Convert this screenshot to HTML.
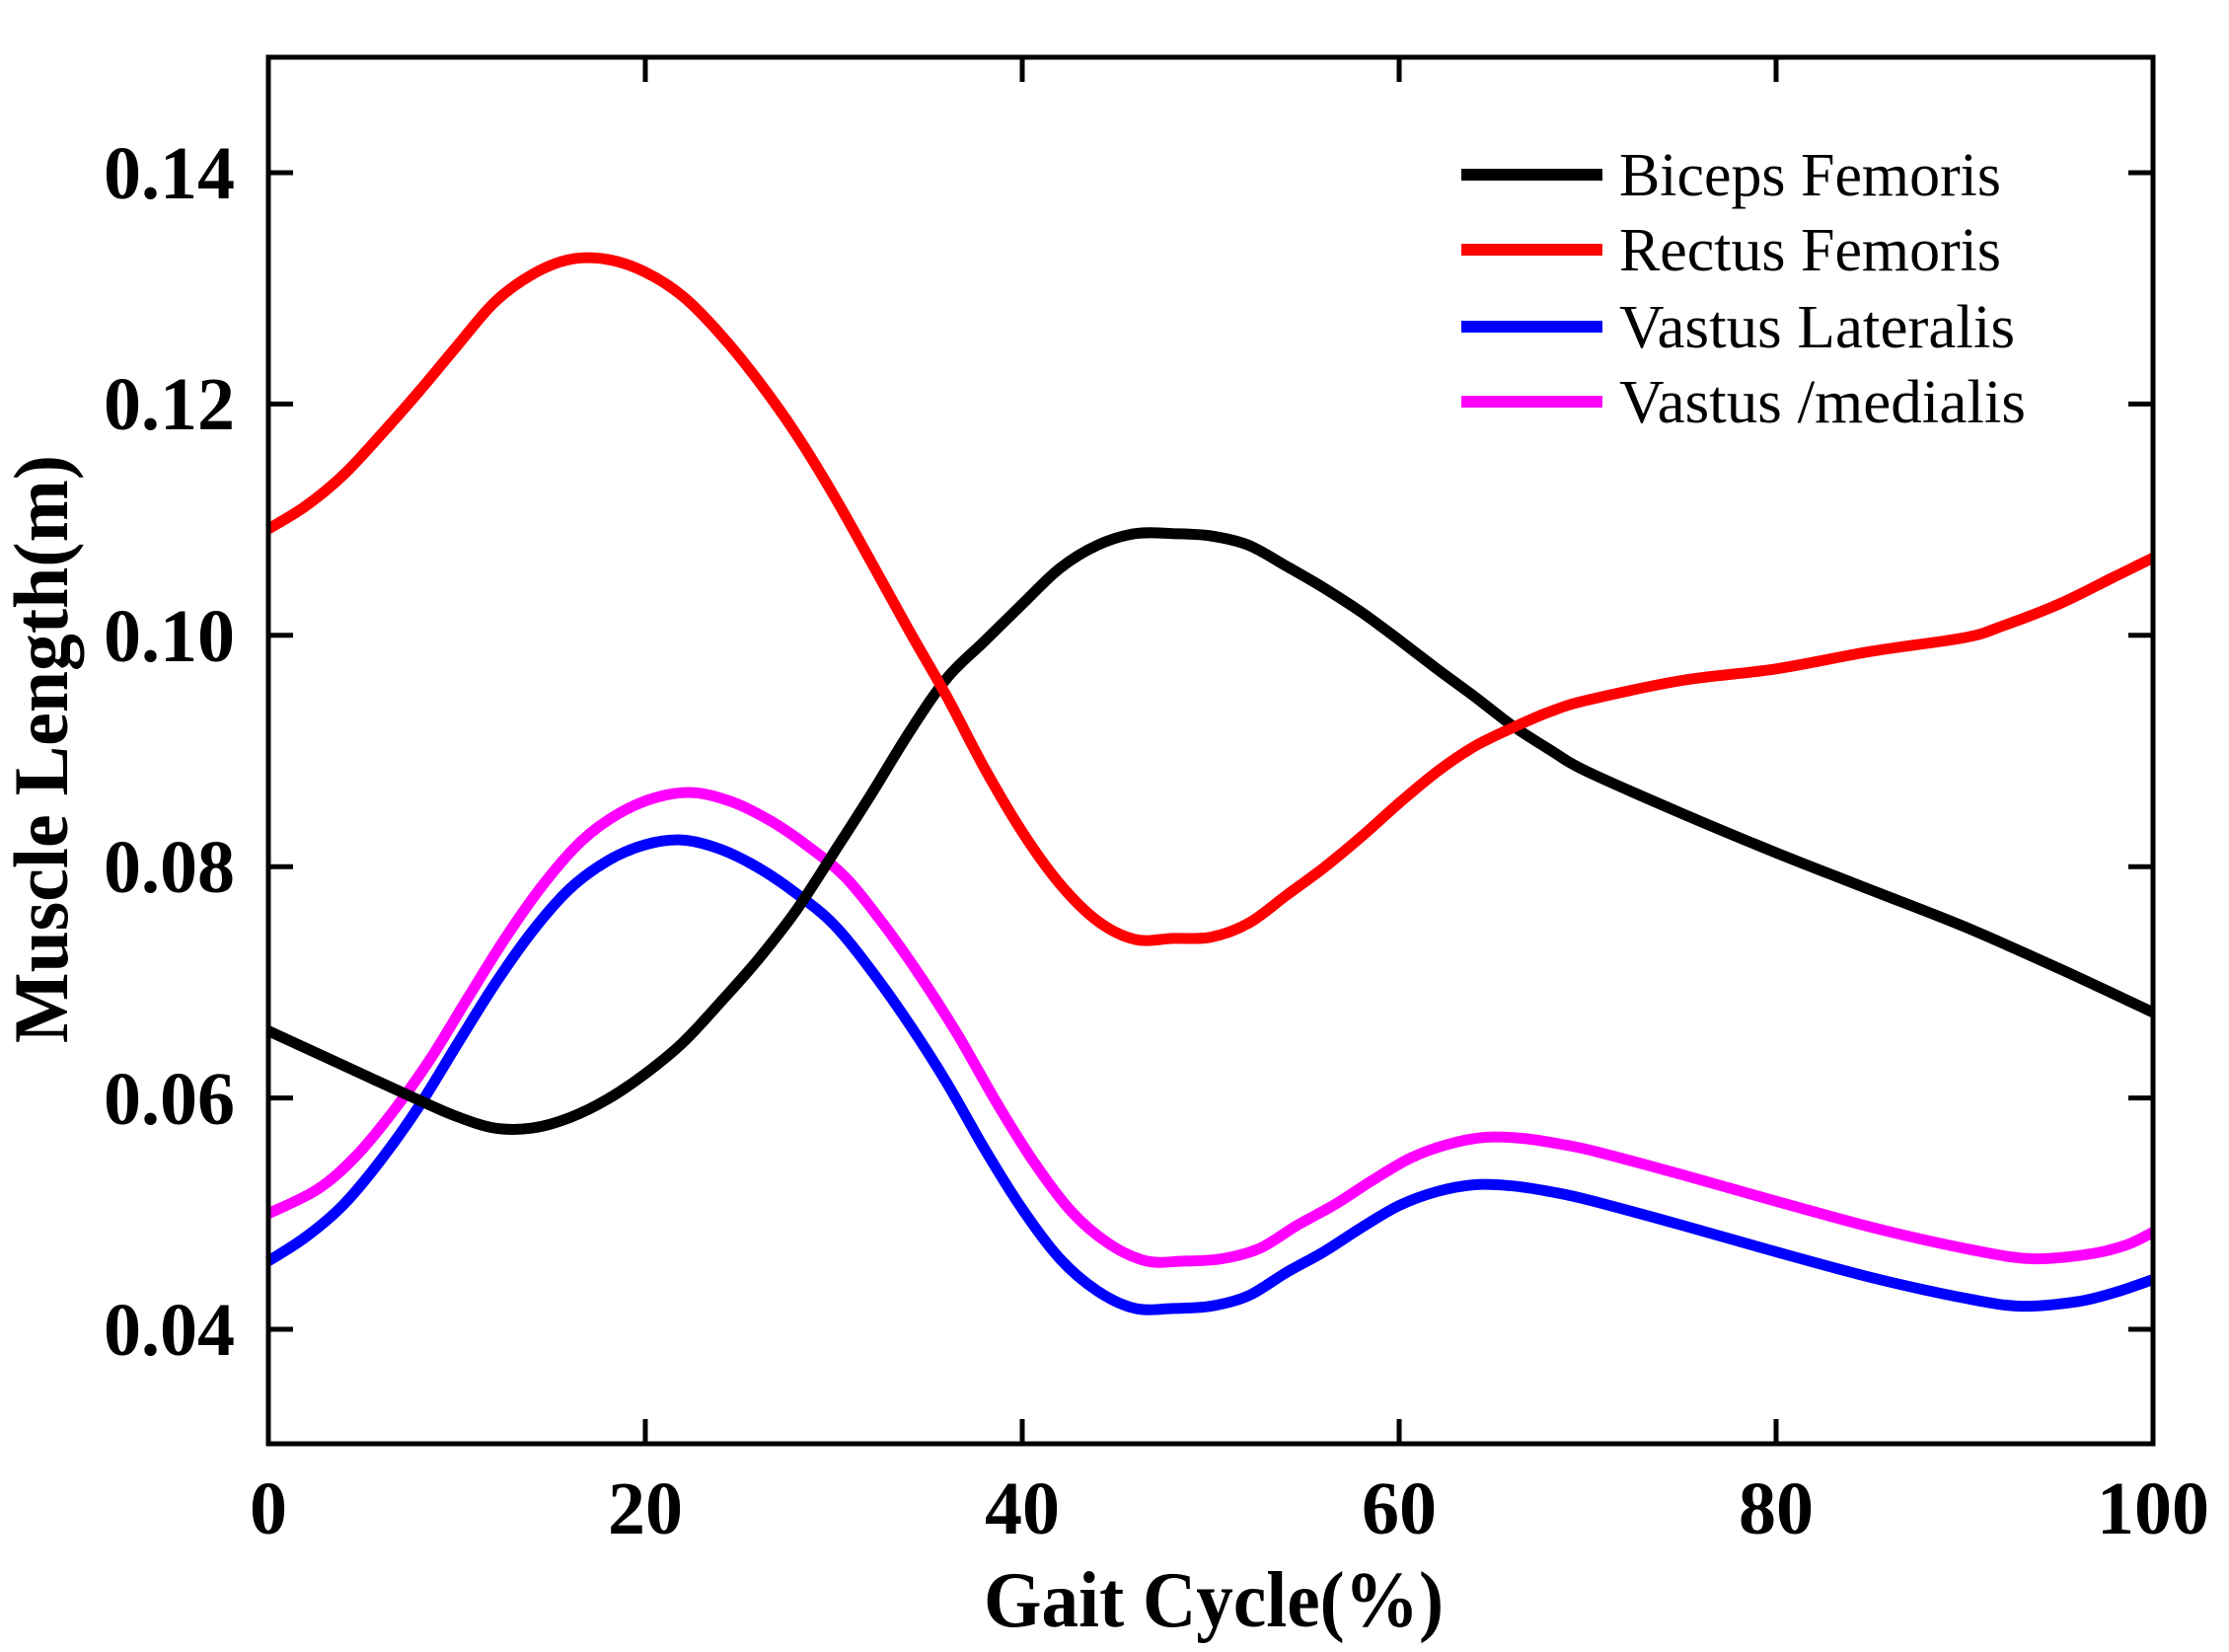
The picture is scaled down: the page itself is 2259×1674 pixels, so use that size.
<!DOCTYPE html>
<html><head><meta charset="utf-8"><style>
html,body{margin:0;padding:0;background:#fff;}
svg{display:block;}
text{font-family:"Liberation Serif",serif;}
</style></head><body>
<svg id="s" width="2259" height="1674" viewBox="0 0 2259 1674" xmlns="http://www.w3.org/2000/svg">
<rect width="2259" height="1674" fill="#fff"/>
<g id="curves" fill="none" stroke-width="11" stroke-linejoin="round" stroke-linecap="butt"></g>
<rect x="272" y="58" width="1910" height="1405" fill="none" stroke="#000" stroke-width="5"/>
<g id="ticks" stroke="#000" stroke-width="5"></g>
<g font-weight="bold" font-size="76" text-anchor="middle">
<text x="272" y="1554">0</text><text x="654" y="1554">20</text><text x="1036" y="1554">40</text>
<text x="1418" y="1554">60</text><text x="1800" y="1554">80</text><text x="2182" y="1554">100</text>
</g>
<g font-weight="bold" font-size="76" text-anchor="end">
<text x="238" y="201">0.14</text><text x="238" y="435">0.12</text><text x="238" y="670">0.10</text>
<text x="238" y="904">0.08</text><text x="238" y="1139">0.06</text><text x="238" y="1373">0.04</text>
</g>
<text x="1230" y="1648" font-weight="bold" font-size="80" text-anchor="middle" textLength="466" lengthAdjust="spacingAndGlyphs">Gait Cycle(%)</text>
<text transform="translate(68,759) rotate(-90)" font-weight="bold" font-size="78" text-anchor="middle" textLength="596" lengthAdjust="spacingAndGlyphs">Muscle Length(m)</text>
<g stroke-width="12">
<line x1="1481" y1="177" x2="1624" y2="177" stroke="#000"/>
<line x1="1481" y1="253" x2="1624" y2="253" stroke="#f00"/>
<line x1="1481" y1="331" x2="1624" y2="331" stroke="#00f"/>
<line x1="1481" y1="407" x2="1624" y2="407" stroke="#f0f"/>
</g>
<g font-size="62">
<text x="1641" y="198" textLength="387" lengthAdjust="spacingAndGlyphs">Biceps Femoris</text>
<text x="1641" y="274" textLength="387" lengthAdjust="spacingAndGlyphs">Rectus Femoris</text>
<text x="1641" y="352" textLength="401" lengthAdjust="spacingAndGlyphs">Vastus Lateralis</text>
<text x="1641" y="428" textLength="412" lengthAdjust="spacingAndGlyphs">Vastus /medialis</text>
</g>
</svg>
<script>
(function(){
var NS="http://www.w3.org/2000/svg";
function X(t){return 272+19.1*t;}
function Y(v){return 175+(0.14-v)/0.02*234.4;}
var tk=document.getElementById("ticks"),h="";
[20,40,60,80].forEach(function(t){var x=X(t);h+='<line x1="'+x+'" y1="1463" x2="'+x+'" y2="1438"/><line x1="'+x+'" y1="58" x2="'+x+'" y2="83"/>';});
[0.04,0.06,0.08,0.10,0.12,0.14].forEach(function(v){var y=Y(v);h+='<line x1="272" y1="'+y+'" x2="297" y2="'+y+'"/><line x1="2182" y1="'+y+'" x2="2157" y2="'+y+'"/>';});
tk.innerHTML=h;
var black=[[0,.0658],[4,.0628],[8,.0598],[10,.0584],[12,.0574],[14,.0574],[16,.0583],[18,.0599],[20,.0621],[22,.0648],[24,.0683],[26,.0720],[28,.0762],[30,.0812],[32,.0863],[34,.0916],[36,.0963],[38,.0995],[40,.1027],[42,.1058],[44,.1078],[46,.1088],[48,.1088],[50,.1086],[52,.1078],[54,.1060],[56,.1041],[58,.1020],[60,.0996],[62,.0971],[64,.0947],[66,.0922],[68,.0901],[70,.0882],[75,.0846],[80,.0812],[85,.0780],[90,.0748],[95,.0712],[100,.0674]];
var red=[[0,.1092],[2,.1112],[4,.1139],[6,.1174],[8,.1211],[10,.1250],[12,.1288],[14,.1312],[16,.1325],[18,.1325],[20,.1314],[22,.1293],[24,.1260],[26,.1220],[28,.1174],[30,.1121],[32,.1063],[34,.1004],[36,.0947],[38,.0885],[40,.0830],[42,.0785],[44,.0753],[46,.0737],[48,.0738],[50,.0739],[52,.0751],[54,.0775],[56,.0799],[58,.0826],[60,.0855],[62,.0882],[64,.0904],[66,.0920],[68,.0934],[70,.0944],[75,.0961],[80,.0971],[85,.0986],[90,.0998],[92,.1008],[95,.1027],[98,.1051],[100,.1067]];
var blue=[[0,.0459],[2,.0480],[4,.0508],[6,.0547],[8,.0593],[10,.0646],[12,.0698],[14,.0744],[16,.0781],[18,.0805],[20,.0819],[22,.0823],[24,.0815],[26,.0799],[28,.0777],[30,.0750],[32,.0710],[34,.0664],[36,.0613],[38,.0556],[40,.0504],[42,.0461],[44,.0433],[46,.0418],[48,.0418],[50,.0420],[52,.0429],[54,.0449],[56,.0467],[58,.0488],[60,.0507],[62,.0519],[64,.0525],[66,.0524],[68,.0519],[70,.0512],[75,.0490],[80,.0467],[85,.0445],[90,.0427],[93,.0420],[96,.0424],[98,.0432],[100,.0443]];
var mag=blue.map(function(p,i){var t=p[0]+0.6;if(i==0)t=0;if(i==blue.length-1)t=100;return [t,p[1]+0.0041];});
mag[0][1]=0.0500;mag[mag.length-1][1]=0.0484;
function path(pts){var P=pts.map(function(p){return [X(p[0]),Y(p[1])];});
var d="M"+P[0][0].toFixed(1)+","+P[0][1].toFixed(1);
for(var i=0;i<P.length-1;i++){var p0=P[i-1]||P[i],p1=P[i],p2=P[i+1],p3=P[i+2]||P[i+1];
var c1x=p1[0]+(p2[0]-p0[0])/6,c1y=p1[1]+(p2[1]-p0[1])/6,c2x=p2[0]-(p3[0]-p1[0])/6,c2y=p2[1]-(p3[1]-p1[1])/6;
d+="C"+c1x.toFixed(1)+","+c1y.toFixed(1)+" "+c2x.toFixed(1)+","+c2y.toFixed(1)+" "+p2[0].toFixed(1)+","+p2[1].toFixed(1);}
return d;}
var g=document.getElementById("curves"),s="";
[[mag,"#f0f"],[blue,"#00f"],[black,"#000"],[red,"#f00"]].forEach(function(c){s+='<path d="'+path(c[0])+'" stroke="'+c[1]+'"/>';});
g.innerHTML=s;
})();
</script>
</body></html>
